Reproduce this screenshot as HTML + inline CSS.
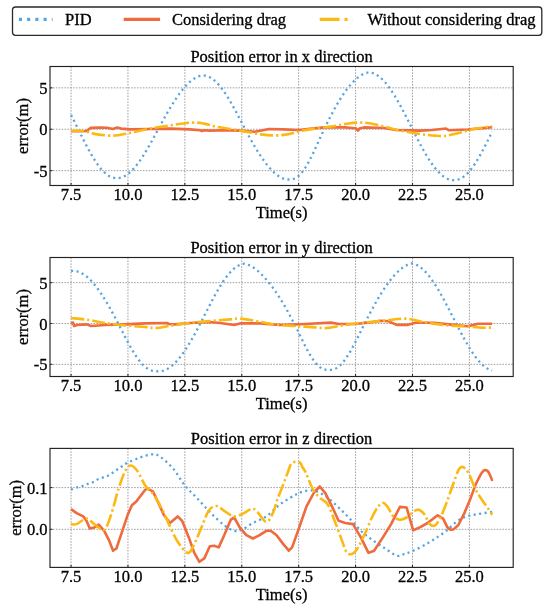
<!DOCTYPE html>
<html><head><meta charset="utf-8"><title>Position error</title>
<style>html,body{margin:0;padding:0;background:#fff;}body{width:550px;height:610px;overflow:hidden;}svg{display:block;}</style>
</head><body>
<svg width="550" height="610" viewBox="0 0 550 610" font-family="'Liberation Serif', 'Times New Roman', serif" font-size="16.5">
<style>text{stroke:#000;stroke-width:0.3px;}</style>
<rect width="550" height="610" fill="#fff"/>
<path d="M71.05,66.50V185.50 M127.96,66.50V185.50 M184.86,66.50V185.50 M241.77,66.50V185.50 M298.67,66.50V185.50 M355.58,66.50V185.50 M412.48,66.50V185.50 M469.38,66.50V185.50 M50.00,87.85H513.20 M50.00,129.25H513.20 M50.00,170.65H513.20" stroke="#a0a0a0" stroke-width="1.0" stroke-dasharray="1.6 1.3" fill="none"/>
<clipPath id="c0"><rect x="50.0" y="66.5" width="463.20000000000005" height="119.0"/></clipPath>
<g clip-path="url(#c0)" fill="none" stroke-width="2.6">
<path d="M71.05,115.00 L71.58,116.01 L72.11,117.03 L72.64,118.06 L73.16,119.10 L73.69,120.13 L74.22,121.18 L74.74,122.23 L75.27,123.28 L75.80,124.34 L76.32,125.40 L76.85,126.46 L77.38,127.52 L77.91,128.59 L78.43,129.66 L78.96,130.72 L79.49,131.79 L80.01,132.86 L80.54,133.92 L81.07,134.98 L81.59,136.04 L82.12,137.10 L82.65,138.15 L83.18,139.20 L83.70,140.25 L84.23,141.29 L84.76,142.32 L85.28,143.35 L85.81,144.37 L86.34,145.39 L86.87,146.40 L87.39,147.39 L87.92,148.38 L88.45,149.36 L88.97,150.33 L89.50,151.29 L90.03,152.24 L90.55,153.18 L91.08,154.11 L91.61,155.02 L92.14,155.92 L92.66,156.81 L93.19,157.69 L93.72,158.55 L94.24,159.40 L94.77,160.23 L95.30,161.04 L95.82,161.84 L96.35,162.63 L96.88,163.40 L97.41,164.15 L97.93,164.89 L98.46,165.60 L98.99,166.30 L99.51,166.98 L100.04,167.65 L100.57,168.29 L101.09,168.92 L101.62,169.53 L102.15,170.11 L102.68,170.68 L103.20,171.23 L103.73,171.76 L104.26,172.27 L104.78,172.75 L105.31,173.22 L105.84,173.67 L106.37,174.09 L106.89,174.49 L107.42,174.88 L107.95,175.24 L108.47,175.58 L109.00,175.90 L109.53,176.19 L110.05,176.47 L110.58,176.72 L111.11,176.96 L111.64,177.17 L112.16,177.36 L112.69,177.53 L113.22,177.67 L113.74,177.80 L114.27,177.90 L114.80,177.98 L115.32,178.04 L115.85,178.08 L116.38,178.10 L116.91,178.12 L117.43,178.12 L117.96,178.11 L118.49,178.07 L119.01,178.02 L119.54,177.94 L120.07,177.85 L120.59,177.73 L121.12,177.59 L121.65,177.43 L122.18,177.25 L122.70,177.06 L123.23,176.84 L123.76,176.60 L124.28,176.34 L124.81,176.06 L125.34,175.77 L125.86,175.45 L126.39,175.11 L126.92,174.76 L127.45,174.39 L127.97,174.00 L128.50,173.59 L129.03,173.16 L129.55,172.71 L130.08,172.25 L130.61,171.77 L131.14,171.27 L131.66,170.75 L132.19,170.22 L132.72,169.67 L133.24,169.10 L133.77,168.52 L134.30,167.93 L134.82,167.31 L135.35,166.68 L135.88,166.04 L136.41,165.38 L136.93,164.71 L137.46,164.02 L137.99,163.32 L138.51,162.61 L139.04,161.88 L139.57,161.14 L140.09,160.39 L140.62,159.62 L141.15,158.85 L141.68,158.06 L142.20,157.26 L142.73,156.45 L143.26,155.63 L143.78,154.79 L144.31,153.95 L144.84,153.10 L145.36,152.24 L145.89,151.37 L146.42,150.49 L146.95,149.60 L147.47,148.70 L148.00,147.80 L148.53,146.89 L149.05,145.97 L149.58,145.05 L150.11,144.12 L150.63,143.18 L151.16,142.24 L151.69,141.29 L152.22,140.34 L152.74,139.38 L153.27,138.42 L153.80,137.46 L154.32,136.49 L154.85,135.52 L155.38,134.55 L155.91,133.57 L156.43,132.60 L156.96,131.62 L157.49,130.64 L158.01,129.66 L158.54,128.68 L159.07,127.70 L159.59,126.72 L160.12,125.74 L160.65,124.77 L161.18,123.80 L161.70,122.83 L162.23,121.86 L162.76,120.90 L163.28,119.94 L163.81,118.99 L164.34,118.04 L164.86,117.09 L165.39,116.15 L165.92,115.22 L166.45,114.29 L166.97,113.36 L167.50,112.44 L168.03,111.53 L168.55,110.62 L169.08,109.72 L169.61,108.83 L170.13,107.94 L170.66,107.06 L171.19,106.19 L171.72,105.33 L172.24,104.47 L172.77,103.63 L173.30,102.79 L173.82,101.96 L174.35,101.13 L174.88,100.32 L175.40,99.52 L175.93,98.72 L176.46,97.94 L176.99,97.16 L177.51,96.40 L178.04,95.64 L178.57,94.90 L179.09,94.17 L179.62,93.44 L180.15,92.73 L180.68,92.03 L181.20,91.34 L181.73,90.67 L182.26,90.00 L182.78,89.35 L183.31,88.71 L183.84,88.08 L184.36,87.47 L184.89,86.87 L185.42,86.28 L185.95,85.70 L186.47,85.14 L187.00,84.59 L187.53,84.06 L188.05,83.53 L188.58,83.03 L189.11,82.54 L189.63,82.06 L190.16,81.60 L190.69,81.15 L191.22,80.72 L191.74,80.30 L192.27,79.90 L192.80,79.51 L193.32,79.15 L193.85,78.79 L194.38,78.46 L194.90,78.14 L195.43,77.83 L195.96,77.55 L196.49,77.28 L197.01,77.02 L197.54,76.79 L198.07,76.57 L198.59,76.37 L199.12,76.19 L199.65,76.03 L200.18,75.89 L200.70,75.76 L201.23,75.65 L201.76,75.57 L202.28,75.50 L202.81,75.45 L203.34,75.44 L203.86,75.48 L204.39,75.55 L204.92,75.63 L205.45,75.73 L205.97,75.85 L206.50,75.99 L207.03,76.15 L207.55,76.33 L208.08,76.53 L208.61,76.75 L209.13,76.99 L209.66,77.25 L210.19,77.53 L210.72,77.83 L211.24,78.15 L211.77,78.49 L212.30,78.85 L212.82,79.23 L213.35,79.62 L213.88,80.04 L214.40,80.48 L214.93,80.93 L215.46,81.41 L215.99,81.90 L216.51,82.41 L217.04,82.94 L217.57,83.49 L218.09,84.05 L218.62,84.64 L219.15,85.24 L219.67,85.85 L220.20,86.49 L220.73,87.14 L221.26,87.81 L221.78,88.49 L222.31,89.19 L222.84,89.91 L223.36,90.64 L223.89,91.38 L224.42,92.14 L224.95,92.91 L225.47,93.70 L226.00,94.50 L226.53,95.32 L227.05,96.14 L227.58,96.98 L228.11,97.83 L228.63,98.70 L229.16,99.57 L229.69,100.46 L230.22,101.35 L230.74,102.26 L231.27,103.17 L231.80,104.09 L232.32,105.03 L232.85,105.97 L233.38,106.92 L233.90,107.87 L234.43,108.83 L234.96,109.80 L235.49,110.78 L236.01,111.76 L236.54,112.74 L237.07,113.74 L237.59,114.73 L238.12,115.73 L238.65,116.73 L239.17,117.74 L239.70,118.74 L240.23,119.75 L240.76,120.76 L241.28,121.77 L241.81,122.79 L242.34,123.80 L242.86,124.81 L243.39,125.82 L243.92,126.83 L244.44,127.84 L244.97,128.85 L245.50,129.85 L246.03,130.85 L246.55,131.85 L247.08,132.84 L247.61,133.82 L248.13,134.80 L248.66,135.78 L249.19,136.75 L249.72,137.71 L250.24,138.66 L250.77,139.61 L251.30,140.55 L251.82,141.49 L252.35,142.42 L252.88,143.34 L253.40,144.25 L253.93,145.16 L254.46,146.05 L254.99,146.94 L255.51,147.83 L256.04,148.70 L256.57,149.57 L257.09,150.42 L257.62,151.27 L258.15,152.11 L258.67,152.94 L259.20,153.76 L259.73,154.57 L260.26,155.37 L260.78,156.17 L261.31,156.95 L261.84,157.72 L262.36,158.48 L262.89,159.23 L263.42,159.98 L263.94,160.71 L264.47,161.43 L265.00,162.14 L265.53,162.84 L266.05,163.52 L266.58,164.20 L267.11,164.86 L267.63,165.51 L268.16,166.16 L268.69,166.78 L269.21,167.40 L269.74,168.00 L270.27,168.59 L270.80,169.17 L271.32,169.74 L271.85,170.29 L272.38,170.83 L272.90,171.35 L273.43,171.86 L273.96,172.36 L274.49,172.84 L275.01,173.31 L275.54,173.76 L276.07,174.20 L276.59,174.62 L277.12,175.03 L277.65,175.42 L278.17,175.79 L278.70,176.15 L279.23,176.50 L279.76,176.82 L280.28,177.13 L280.81,177.42 L281.34,177.69 L281.86,177.95 L282.39,178.19 L282.92,178.41 L283.44,178.61 L283.97,178.79 L284.50,178.95 L285.03,179.09 L285.55,179.22 L286.08,179.32 L286.61,179.40 L287.13,179.46 L287.66,179.50 L288.19,179.52 L288.71,179.52 L289.24,179.53 L289.77,179.55 L290.30,179.54 L290.82,179.51 L291.35,179.46 L291.88,179.38 L292.40,179.27 L292.93,179.13 L293.46,178.97 L293.99,178.78 L294.51,178.56 L295.04,178.32 L295.57,178.04 L296.09,177.74 L296.62,177.41 L297.15,177.04 L297.67,176.65 L298.20,176.23 L298.73,175.77 L299.26,175.29 L299.78,174.78 L300.31,174.24 L300.84,173.67 L301.36,173.07 L301.89,172.44 L302.42,171.78 L302.94,171.09 L303.47,170.38 L304.00,169.63 L304.53,168.86 L305.05,168.07 L305.58,167.25 L306.11,166.40 L306.63,165.53 L307.16,164.64 L307.69,163.72 L308.21,162.78 L308.74,161.82 L309.27,160.84 L309.80,159.85 L310.32,158.83 L310.85,157.79 L311.38,156.74 L311.90,155.68 L312.43,154.60 L312.96,153.51 L313.48,152.40 L314.01,151.29 L314.54,150.16 L315.07,149.03 L315.59,147.89 L316.12,146.74 L316.65,145.59 L317.17,144.43 L317.70,143.27 L318.23,142.11 L318.76,140.95 L319.28,139.79 L319.81,138.63 L320.34,137.47 L320.86,136.32 L321.39,135.17 L321.92,134.03 L322.44,132.90 L322.97,131.77 L323.50,130.65 L324.03,129.54 L324.55,128.44 L325.08,127.35 L325.61,126.26 L326.13,125.17 L326.66,124.09 L327.19,123.02 L327.71,121.95 L328.24,120.89 L328.77,119.84 L329.30,118.79 L329.82,117.76 L330.35,116.73 L330.88,115.70 L331.40,114.69 L331.93,113.68 L332.46,112.69 L332.98,111.70 L333.51,110.72 L334.04,109.75 L334.57,108.78 L335.09,107.83 L335.62,106.89 L336.15,105.96 L336.67,105.03 L337.20,104.12 L337.73,103.22 L338.25,102.33 L338.78,101.44 L339.31,100.57 L339.84,99.71 L340.36,98.86 L340.89,98.02 L341.42,97.20 L341.94,96.38 L342.47,95.57 L343.00,94.78 L343.53,94.00 L344.05,93.23 L344.58,92.47 L345.11,91.72 L345.63,90.98 L346.16,90.26 L346.69,89.55 L347.21,88.85 L347.74,88.16 L348.27,87.49 L348.80,86.83 L349.32,86.18 L349.85,85.54 L350.38,84.92 L350.90,84.31 L351.43,83.71 L351.96,83.13 L352.48,82.56 L353.01,82.00 L353.54,81.46 L354.07,80.93 L354.59,80.41 L355.12,79.91 L355.65,79.42 L356.17,78.95 L356.70,78.49 L357.23,78.05 L357.75,77.62 L358.28,77.21 L358.81,76.81 L359.34,76.43 L359.86,76.06 L360.39,75.71 L360.92,75.37 L361.44,75.05 L361.97,74.75 L362.50,74.46 L363.02,74.19 L363.55,73.94 L364.08,73.71 L364.61,73.49 L365.13,73.29 L365.66,73.11 L366.19,72.94 L366.71,72.80 L367.24,72.67 L367.77,72.56 L368.30,72.48 L368.82,72.41 L369.35,72.38 L369.88,72.43 L370.40,72.50 L370.93,72.59 L371.46,72.70 L371.98,72.83 L372.51,72.99 L373.04,73.16 L373.57,73.35 L374.09,73.56 L374.62,73.79 L375.15,74.04 L375.67,74.31 L376.20,74.60 L376.73,74.91 L377.25,75.23 L377.78,75.58 L378.31,75.95 L378.84,76.33 L379.36,76.73 L379.89,77.16 L380.42,77.60 L380.94,78.06 L381.47,78.53 L382.00,79.03 L382.52,79.54 L383.05,80.07 L383.58,80.62 L384.11,81.18 L384.63,81.76 L385.16,82.36 L385.69,82.97 L386.21,83.61 L386.74,84.25 L387.27,84.92 L387.80,85.60 L388.32,86.29 L388.85,87.00 L389.38,87.72 L389.90,88.46 L390.43,89.21 L390.96,89.98 L391.48,90.76 L392.01,91.56 L392.54,92.36 L393.07,93.18 L393.59,94.02 L394.12,94.86 L394.65,95.72 L395.17,96.59 L395.70,97.47 L396.23,98.36 L396.75,99.26 L397.28,100.17 L397.81,101.09 L398.34,102.02 L398.86,102.96 L399.39,103.91 L399.92,104.87 L400.44,105.83 L400.97,106.81 L401.50,107.79 L402.02,108.78 L402.55,109.77 L403.08,110.77 L403.61,111.78 L404.13,112.79 L404.66,113.81 L405.19,114.83 L405.71,115.86 L406.24,116.89 L406.77,117.92 L407.29,118.96 L407.82,120.00 L408.35,121.04 L408.88,122.09 L409.40,123.13 L409.93,124.18 L410.46,125.23 L410.98,126.28 L411.51,127.32 L412.04,128.37 L412.57,129.42 L413.09,130.47 L413.62,131.51 L414.15,132.55 L414.67,133.59 L415.20,134.62 L415.73,135.66 L416.25,136.68 L416.78,137.71 L417.31,138.73 L417.84,139.74 L418.36,140.75 L418.89,141.75 L419.42,142.75 L419.94,143.74 L420.47,144.72 L421.00,145.70 L421.52,146.67 L422.05,147.63 L422.58,148.58 L423.11,149.53 L423.63,150.47 L424.16,151.39 L424.69,152.31 L425.21,153.22 L425.74,154.12 L426.27,155.00 L426.79,155.88 L427.32,156.75 L427.85,157.60 L428.38,158.44 L428.90,159.28 L429.43,160.09 L429.96,160.90 L430.48,161.69 L431.01,162.47 L431.54,163.24 L432.06,163.99 L432.59,164.73 L433.12,165.45 L433.65,166.16 L434.17,166.86 L434.70,167.54 L435.23,168.20 L435.75,168.85 L436.28,169.49 L436.81,170.10 L437.34,170.70 L437.86,171.29 L438.39,171.86 L438.92,172.41 L439.44,172.94 L439.97,173.45 L440.50,173.95 L441.02,174.43 L441.55,174.89 L442.08,175.34 L442.61,175.76 L443.13,176.17 L443.66,176.56 L444.19,176.92 L444.71,177.27 L445.24,177.60 L445.77,177.91 L446.29,178.20 L446.82,178.47 L447.35,178.72 L447.88,178.95 L448.40,179.16 L448.93,179.35 L449.46,179.52 L449.98,179.67 L450.51,179.80 L451.04,179.90 L451.56,179.99 L452.09,180.05 L452.62,180.10 L453.15,180.12 L453.67,180.12 L454.20,180.10 L454.73,180.08 L455.25,180.06 L455.78,180.01 L456.31,179.94 L456.83,179.85 L457.36,179.74 L457.89,179.61 L458.42,179.45 L458.94,179.27 L459.47,179.07 L460.00,178.85 L460.52,178.60 L461.05,178.34 L461.58,178.05 L462.11,177.74 L462.63,177.41 L463.16,177.05 L463.69,176.68 L464.21,176.28 L464.74,175.86 L465.27,175.42 L465.79,174.96 L466.32,174.48 L466.85,173.97 L467.38,173.45 L467.90,172.91 L468.43,172.34 L468.96,171.76 L469.48,171.15 L470.01,170.53 L470.54,169.88 L471.06,169.22 L471.59,168.54 L472.12,167.84 L472.65,167.12 L473.17,166.38 L473.70,165.63 L474.23,164.86 L474.75,164.07 L475.28,163.27 L475.81,162.45 L476.33,161.61 L476.86,160.76 L477.39,159.90 L477.92,159.02 L478.44,158.13 L478.97,157.22 L479.50,156.30 L480.02,155.37 L480.55,154.42 L481.08,153.46 L481.61,152.50 L482.13,151.52 L482.66,150.53 L483.19,149.53 L483.71,148.52 L484.24,147.51 L484.77,146.48 L485.29,145.45 L485.82,144.41 L486.35,143.37 L486.88,142.32 L487.40,141.26 L487.93,140.20 L488.46,139.13 L488.98,138.06 L489.51,136.99 L490.04,135.91 L490.56,134.83 L491.09,133.75 L491.62,132.67 L492.15,131.59" stroke="#58a4de" stroke-width="2.3" stroke-dasharray="2.1 3.4"/>
<path d="M71.00,131.30 L80.00,131.20 L86.60,131.00 L90.50,127.90 L100.00,127.60 L107.00,127.80 L113.00,129.00 L117.20,127.60 L121.00,128.60 L130.00,129.40 L150.00,129.00 L170.00,128.60 L190.00,129.40 L200.00,130.20 L202.00,131.00 L204.00,130.30 L210.00,130.60 L225.00,130.30 L240.00,130.60 L255.00,131.80 L269.00,129.00 L283.00,129.40 L299.00,130.00 L312.00,128.50 L325.00,127.40 L345.00,127.40 L352.00,128.00 L356.00,128.30 L358.00,130.60 L360.00,128.20 L364.00,127.40 L384.00,128.00 L396.00,130.00 L420.00,130.60 L432.00,130.00 L444.00,128.80 L446.00,128.60 L449.00,130.30 L468.00,129.50 L480.00,128.40 L492.20,127.30" stroke="#ef6a3c" stroke-linejoin="round"/>
<path d="M71.00,130.80 C72.50,130.80 77.50,130.70 80.00,130.80 C82.50,130.90 83.62,130.88 86.00,131.40 C88.38,131.92 90.38,133.20 94.30,133.90 C98.22,134.60 105.55,135.38 109.50,135.60 C113.45,135.82 115.02,135.58 118.00,135.20 C120.98,134.82 125.10,133.73 127.40,133.30 C129.70,132.87 128.03,133.38 131.80,132.60 C135.57,131.82 143.63,129.80 150.00,128.60 C156.37,127.40 163.00,126.40 170.00,125.40 C177.00,124.40 186.33,122.90 192.00,122.60 C197.67,122.30 200.00,122.93 204.00,123.60 C208.00,124.27 210.00,125.43 216.00,126.60 C222.00,127.77 232.50,129.30 240.00,130.60 C247.50,131.90 255.17,133.60 261.00,134.40 C266.83,135.20 270.67,135.40 275.00,135.40 C279.33,135.40 283.00,135.07 287.00,134.40 C291.00,133.73 294.33,132.37 299.00,131.40 C303.67,130.43 309.00,129.50 315.00,128.60 C321.00,127.70 330.00,126.77 335.00,126.00 C340.00,125.23 340.50,124.57 345.00,124.00 C349.50,123.43 356.17,122.37 362.00,122.60 C367.83,122.83 374.00,124.17 380.00,125.40 C386.00,126.63 391.33,128.57 398.00,130.00 C404.67,131.43 413.92,133.07 420.00,134.00 C426.08,134.93 430.62,135.25 434.50,135.60 C438.38,135.95 440.38,136.27 443.30,136.10 C446.22,135.93 448.62,135.33 452.00,134.60 C455.38,133.87 459.72,132.67 463.60,131.70 C467.48,130.73 470.53,129.68 475.30,128.80 C480.07,127.92 489.38,126.80 492.20,126.40" stroke="#fbb912" stroke-dasharray="13.1 3.0 2.2 3.0"/>
</g>
<path d="M71.05,185.50v-2.5 M127.96,185.50v-2.5 M184.86,185.50v-2.5 M241.77,185.50v-2.5 M298.67,185.50v-2.5 M355.58,185.50v-2.5 M412.48,185.50v-2.5 M469.38,185.50v-2.5 M50.00,87.85h2.5 M50.00,129.25h2.5 M50.00,170.65h2.5" stroke="#222" stroke-width="1" fill="none"/>
<rect x="50.00" y="66.50" width="463.20" height="119.00" stroke="#222" stroke-width="1.15" fill="none"/>
<text x="47.60" y="93.85" text-anchor="end">5</text>
<text x="47.60" y="135.25" text-anchor="end">0</text>
<text x="47.60" y="176.65" text-anchor="end">-5</text>
<text x="71.05" y="200.00" text-anchor="middle">7.5</text>
<text x="127.96" y="200.00" text-anchor="middle">10.0</text>
<text x="184.86" y="200.00" text-anchor="middle">12.5</text>
<text x="241.77" y="200.00" text-anchor="middle">15.0</text>
<text x="298.67" y="200.00" text-anchor="middle">17.5</text>
<text x="355.58" y="200.00" text-anchor="middle">20.0</text>
<text x="412.48" y="200.00" text-anchor="middle">22.5</text>
<text x="469.38" y="200.00" text-anchor="middle">25.0</text>
<text x="281.60" y="217.70" text-anchor="middle">Time(s)</text>
<text x="281.60" y="62.10" text-anchor="middle">Position error in x direction</text>
<text transform="translate(27.70,126.00) rotate(-90)" text-anchor="middle">error(m)</text>
<path d="M71.05,257.50V376.50 M127.96,257.50V376.50 M184.86,257.50V376.50 M241.77,257.50V376.50 M298.67,257.50V376.50 M355.58,257.50V376.50 M412.48,257.50V376.50 M469.38,257.50V376.50 M50.00,282.65H513.20 M50.00,323.50H513.20 M50.00,364.35H513.20" stroke="#a0a0a0" stroke-width="1.0" stroke-dasharray="1.6 1.3" fill="none"/>
<clipPath id="c1"><rect x="50.0" y="257.5" width="463.20000000000005" height="119.0"/></clipPath>
<g clip-path="url(#c1)" fill="none" stroke-width="2.6">
<path d="M71.05,271.07 L71.58,271.00 L72.11,270.95 L72.64,270.92 L73.16,270.91 L73.69,270.92 L74.22,270.94 L74.74,270.99 L75.27,271.05 L75.80,271.13 L76.32,271.22 L76.85,271.34 L77.38,271.47 L77.91,271.62 L78.43,271.79 L78.96,271.97 L79.49,272.18 L80.01,272.39 L80.54,272.63 L81.07,272.88 L81.59,273.15 L82.12,273.44 L82.65,273.75 L83.18,274.06 L83.70,274.40 L84.23,274.75 L84.76,275.12 L85.28,275.50 L85.81,275.90 L86.34,276.32 L86.87,276.75 L87.39,277.19 L87.92,277.65 L88.45,278.13 L88.97,278.62 L89.50,279.12 L90.03,279.64 L90.55,280.17 L91.08,280.72 L91.61,281.28 L92.14,281.85 L92.66,282.44 L93.19,283.05 L93.72,283.66 L94.24,284.29 L94.77,284.93 L95.30,285.58 L95.82,286.25 L96.35,286.93 L96.88,287.62 L97.41,288.33 L97.93,289.04 L98.46,289.77 L98.99,290.51 L99.51,291.26 L100.04,292.02 L100.57,292.80 L101.09,293.58 L101.62,294.37 L102.15,295.18 L102.68,296.00 L103.20,296.82 L103.73,297.66 L104.26,298.50 L104.78,299.36 L105.31,300.22 L105.84,301.09 L106.37,301.97 L106.89,302.86 L107.42,303.76 L107.95,304.67 L108.47,305.59 L109.00,306.51 L109.53,307.44 L110.05,308.37 L110.58,309.32 L111.11,310.27 L111.64,311.22 L112.16,312.19 L112.69,313.16 L113.22,314.13 L113.74,315.11 L114.27,316.09 L114.80,317.08 L115.32,318.07 L115.85,319.07 L116.38,320.07 L116.91,321.08 L117.43,322.08 L117.96,323.09 L118.49,324.11 L119.01,325.12 L119.54,326.14 L120.07,327.16 L120.59,328.19 L121.12,329.21 L121.65,330.24 L122.18,331.26 L122.70,332.29 L123.23,333.31 L123.76,334.33 L124.28,335.35 L124.81,336.37 L125.34,337.38 L125.86,338.39 L126.39,339.39 L126.92,340.39 L127.45,341.38 L127.97,342.36 L128.50,343.34 L129.03,344.30 L129.55,345.26 L130.08,346.21 L130.61,347.15 L131.14,348.07 L131.66,348.99 L132.19,349.89 L132.72,350.78 L133.24,351.66 L133.77,352.52 L134.30,353.37 L134.82,354.21 L135.35,355.03 L135.88,355.83 L136.41,356.61 L136.93,357.38 L137.46,358.13 L137.99,358.87 L138.51,359.58 L139.04,360.28 L139.57,360.95 L140.09,361.61 L140.62,362.25 L141.15,362.86 L141.68,363.46 L142.20,364.03 L142.73,364.59 L143.26,365.12 L143.78,365.63 L144.31,366.12 L144.84,366.59 L145.36,367.03 L145.89,367.46 L146.42,367.86 L146.95,368.23 L147.47,368.59 L148.00,368.92 L148.53,369.23 L149.05,369.52 L149.58,369.78 L150.11,370.03 L150.63,370.25 L151.16,370.44 L151.69,370.62 L152.22,370.77 L152.74,370.91 L153.27,371.02 L153.80,371.11 L154.32,371.17 L154.85,371.22 L155.38,371.25 L155.91,371.25 L156.43,371.24 L156.96,371.23 L157.49,371.29 L158.01,371.33 L158.54,371.35 L159.07,371.35 L159.59,371.33 L160.12,371.30 L160.65,371.24 L161.18,371.17 L161.70,371.08 L162.23,370.97 L162.76,370.84 L163.28,370.69 L163.81,370.52 L164.34,370.34 L164.86,370.14 L165.39,369.92 L165.92,369.68 L166.45,369.42 L166.97,369.15 L167.50,368.86 L168.03,368.55 L168.55,368.22 L169.08,367.88 L169.61,367.52 L170.13,367.14 L170.66,366.75 L171.19,366.34 L171.72,365.91 L172.24,365.47 L172.77,365.01 L173.30,364.54 L173.82,364.05 L174.35,363.54 L174.88,363.02 L175.40,362.49 L175.93,361.94 L176.46,361.37 L176.99,360.79 L177.51,360.20 L178.04,359.59 L178.57,358.96 L179.09,358.33 L179.62,357.68 L180.15,357.01 L180.68,356.33 L181.20,355.64 L181.73,354.94 L182.26,354.22 L182.78,353.49 L183.31,352.75 L183.84,352.00 L184.36,351.23 L184.89,350.45 L185.42,349.66 L185.95,348.86 L186.47,348.05 L187.00,347.23 L187.53,346.40 L188.05,345.55 L188.58,344.70 L189.11,343.83 L189.63,342.96 L190.16,342.08 L190.69,341.18 L191.22,340.28 L191.74,339.37 L192.27,338.45 L192.80,337.53 L193.32,336.59 L193.85,335.65 L194.38,334.70 L194.90,333.74 L195.43,332.77 L195.96,331.80 L196.49,330.82 L197.01,329.84 L197.54,328.85 L198.07,327.85 L198.59,326.85 L199.12,325.85 L199.65,324.84 L200.18,323.82 L200.70,322.80 L201.23,321.78 L201.76,320.75 L202.28,319.72 L202.81,318.69 L203.34,317.66 L203.86,316.62 L204.39,315.58 L204.92,314.55 L205.45,313.51 L205.97,312.47 L206.50,311.44 L207.03,310.40 L207.55,309.36 L208.08,308.33 L208.61,307.30 L209.13,306.27 L209.66,305.25 L210.19,304.23 L210.72,303.21 L211.24,302.20 L211.77,301.20 L212.30,300.19 L212.82,299.20 L213.35,298.21 L213.88,297.23 L214.40,296.25 L214.93,295.29 L215.46,294.33 L215.99,293.38 L216.51,292.44 L217.04,291.50 L217.57,290.58 L218.09,289.67 L218.62,288.77 L219.15,287.88 L219.67,287.00 L220.20,286.13 L220.73,285.28 L221.26,284.43 L221.78,283.60 L222.31,282.79 L222.84,281.98 L223.36,281.19 L223.89,280.42 L224.42,279.66 L224.95,278.91 L225.47,278.18 L226.00,277.46 L226.53,276.76 L227.05,276.08 L227.58,275.41 L228.11,274.76 L228.63,274.13 L229.16,273.51 L229.69,272.91 L230.22,272.32 L230.74,271.76 L231.27,271.21 L231.80,270.68 L232.32,270.17 L232.85,269.67 L233.38,269.20 L233.90,268.74 L234.43,268.30 L234.96,267.88 L235.49,267.48 L236.01,267.10 L236.54,266.74 L237.07,266.39 L237.59,266.07 L238.12,265.76 L238.65,265.48 L239.17,265.21 L239.70,264.96 L240.23,264.73 L240.76,264.52 L241.28,264.33 L241.81,264.16 L242.34,264.01 L242.86,263.88 L243.39,263.76 L243.92,263.67 L244.44,263.64 L244.97,263.74 L245.50,263.86 L246.03,264.00 L246.55,264.15 L247.08,264.33 L247.61,264.51 L248.13,264.72 L248.66,264.94 L249.19,265.17 L249.72,265.42 L250.24,265.69 L250.77,265.97 L251.30,266.26 L251.82,266.57 L252.35,266.89 L252.88,267.22 L253.40,267.57 L253.93,267.93 L254.46,268.30 L254.99,268.68 L255.51,269.08 L256.04,269.49 L256.57,269.91 L257.09,270.34 L257.62,270.78 L258.15,271.24 L258.67,271.70 L259.20,272.17 L259.73,272.66 L260.26,273.16 L260.78,273.66 L261.31,274.18 L261.84,274.70 L262.36,275.24 L262.89,275.78 L263.42,276.34 L263.94,276.90 L264.47,277.48 L265.00,278.06 L265.53,278.65 L266.05,279.26 L266.58,279.87 L267.11,280.49 L267.63,281.12 L268.16,281.75 L268.69,282.40 L269.21,283.06 L269.74,283.72 L270.27,284.39 L270.80,285.08 L271.32,285.77 L271.85,286.47 L272.38,287.17 L272.90,287.89 L273.43,288.62 L273.96,289.35 L274.49,290.09 L275.01,290.84 L275.54,291.60 L276.07,292.37 L276.59,293.15 L277.12,293.93 L277.65,294.72 L278.17,295.53 L278.70,296.34 L279.23,297.15 L279.76,297.98 L280.28,298.82 L280.81,299.66 L281.34,300.51 L281.86,301.37 L282.39,302.24 L282.92,303.12 L283.44,304.00 L283.97,304.89 L284.50,305.79 L285.03,306.70 L285.55,307.62 L286.08,308.54 L286.61,309.47 L287.13,310.41 L287.66,311.36 L288.19,312.31 L288.71,313.27 L289.24,314.24 L289.77,315.22 L290.30,316.20 L290.82,317.19 L291.35,318.18 L291.88,319.18 L292.40,320.19 L292.93,321.20 L293.46,322.22 L293.99,323.24 L294.51,324.27 L295.04,325.31 L295.57,326.35 L296.09,327.41 L296.62,328.47 L297.15,329.54 L297.67,330.62 L298.20,331.69 L298.73,332.78 L299.26,333.86 L299.78,334.94 L300.31,336.03 L300.84,337.11 L301.36,338.20 L301.89,339.28 L302.42,340.35 L302.94,341.43 L303.47,342.49 L304.00,343.55 L304.53,344.60 L305.05,345.64 L305.58,346.67 L306.11,347.69 L306.63,348.69 L307.16,349.68 L307.69,350.66 L308.21,351.62 L308.74,352.57 L309.27,353.50 L309.80,354.41 L310.32,355.30 L310.85,356.16 L311.38,357.01 L311.90,357.84 L312.43,358.64 L312.96,359.42 L313.48,360.17 L314.01,360.90 L314.54,361.61 L315.07,362.28 L315.59,362.93 L316.12,363.55 L316.65,364.15 L317.17,364.71 L317.70,365.25 L318.23,365.76 L318.76,366.23 L319.28,366.68 L319.81,367.10 L320.34,367.49 L320.86,367.84 L321.39,368.17 L321.92,368.47 L322.44,368.73 L322.97,368.97 L323.50,369.17 L324.03,369.35 L324.55,369.50 L325.08,369.61 L325.61,369.70 L326.13,369.76 L326.66,369.80 L327.19,369.80 L327.71,369.78 L328.24,369.73 L328.77,369.67 L329.30,369.74 L329.82,369.79 L330.35,369.81 L330.88,369.80 L331.40,369.77 L331.93,369.71 L332.46,369.63 L332.98,369.51 L333.51,369.37 L334.04,369.21 L334.57,369.01 L335.09,368.79 L335.62,368.54 L336.15,368.26 L336.67,367.96 L337.20,367.62 L337.73,367.27 L338.25,366.88 L338.78,366.47 L339.31,366.03 L339.84,365.56 L340.36,365.07 L340.89,364.55 L341.42,364.00 L341.94,363.43 L342.47,362.84 L343.00,362.22 L343.53,361.58 L344.05,360.92 L344.58,360.23 L345.11,359.52 L345.63,358.78 L346.16,358.03 L346.69,357.25 L347.21,356.46 L347.74,355.65 L348.27,354.81 L348.80,353.96 L349.32,353.09 L349.85,352.21 L350.38,351.30 L350.90,350.39 L351.43,349.45 L351.96,348.51 L352.48,347.55 L353.01,346.58 L353.54,345.60 L354.07,344.60 L354.59,343.60 L355.12,342.59 L355.65,341.56 L356.17,340.53 L356.70,339.50 L357.23,338.46 L357.75,337.41 L358.28,336.36 L358.81,335.30 L359.34,334.24 L359.86,333.18 L360.39,332.12 L360.92,331.05 L361.44,329.99 L361.97,328.93 L362.50,327.87 L363.02,326.81 L363.55,325.75 L364.08,324.70 L364.61,323.65 L365.13,322.60 L365.66,321.56 L366.19,320.52 L366.71,319.49 L367.24,318.46 L367.77,317.43 L368.30,316.41 L368.82,315.39 L369.35,314.38 L369.88,313.37 L370.40,312.37 L370.93,311.38 L371.46,310.39 L371.98,309.41 L372.51,308.43 L373.04,307.46 L373.57,306.50 L374.09,305.54 L374.62,304.60 L375.15,303.65 L375.67,302.72 L376.20,301.79 L376.73,300.87 L377.25,299.96 L377.78,299.06 L378.31,298.17 L378.84,297.28 L379.36,296.40 L379.89,295.53 L380.42,294.67 L380.94,293.82 L381.47,292.97 L382.00,292.14 L382.52,291.31 L383.05,290.50 L383.58,289.69 L384.11,288.89 L384.63,288.10 L385.16,287.32 L385.69,286.55 L386.21,285.79 L386.74,285.04 L387.27,284.30 L387.80,283.57 L388.32,282.86 L388.85,282.15 L389.38,281.45 L389.90,280.76 L390.43,280.08 L390.96,279.41 L391.48,278.76 L392.01,278.11 L392.54,277.48 L393.07,276.85 L393.59,276.24 L394.12,275.64 L394.65,275.05 L395.17,274.48 L395.70,273.91 L396.23,273.36 L396.75,272.82 L397.28,272.29 L397.81,271.78 L398.34,271.27 L398.86,270.78 L399.39,270.31 L399.92,269.85 L400.44,269.40 L400.97,268.96 L401.50,268.54 L402.02,268.13 L402.55,267.74 L403.08,267.36 L403.61,267.00 L404.13,266.65 L404.66,266.31 L405.19,266.00 L405.71,265.69 L406.24,265.41 L406.77,265.14 L407.29,264.89 L407.82,264.65 L408.35,264.43 L408.88,264.23 L409.40,264.05 L409.93,263.88 L410.46,263.74 L410.98,263.61 L411.51,263.50 L412.04,263.49 L412.57,263.58 L413.09,263.70 L413.62,263.84 L414.15,263.99 L414.67,264.17 L415.20,264.36 L415.73,264.57 L416.25,264.81 L416.78,265.06 L417.31,265.33 L417.84,265.62 L418.36,265.93 L418.89,266.25 L419.42,266.60 L419.94,266.96 L420.47,267.35 L421.00,267.75 L421.52,268.17 L422.05,268.60 L422.58,269.06 L423.11,269.53 L423.63,270.02 L424.16,270.53 L424.69,271.05 L425.21,271.59 L425.74,272.15 L426.27,272.72 L426.79,273.31 L427.32,273.92 L427.85,274.54 L428.38,275.18 L428.90,275.83 L429.43,276.50 L429.96,277.19 L430.48,277.88 L431.01,278.60 L431.54,279.32 L432.06,280.06 L432.59,280.82 L433.12,281.59 L433.65,282.37 L434.17,283.16 L434.70,283.97 L435.23,284.78 L435.75,285.61 L436.28,286.46 L436.81,287.31 L437.34,288.17 L437.86,289.05 L438.39,289.93 L438.92,290.83 L439.44,291.73 L439.97,292.65 L440.50,293.57 L441.02,294.50 L441.55,295.44 L442.08,296.39 L442.61,297.35 L443.13,298.31 L443.66,299.28 L444.19,300.26 L444.71,301.25 L445.24,302.24 L445.77,303.23 L446.29,304.23 L446.82,305.24 L447.35,306.25 L447.88,307.26 L448.40,308.28 L448.93,309.30 L449.46,310.33 L449.98,311.35 L450.51,312.38 L451.04,313.41 L451.56,314.45 L452.09,315.48 L452.62,316.52 L453.15,317.55 L453.67,318.59 L454.20,319.62 L454.73,320.65 L455.25,321.69 L455.78,322.72 L456.31,323.75 L456.83,324.77 L457.36,325.80 L457.89,326.82 L458.42,327.84 L458.94,328.86 L459.47,329.88 L460.00,330.89 L460.52,331.89 L461.05,332.89 L461.58,333.89 L462.11,334.88 L462.63,335.86 L463.16,336.84 L463.69,337.81 L464.21,338.78 L464.74,339.73 L465.27,340.68 L465.79,341.62 L466.32,342.55 L466.85,343.47 L467.38,344.38 L467.90,345.29 L468.43,346.18 L468.96,347.06 L469.48,347.92 L470.01,348.78 L470.54,349.63 L471.06,350.46 L471.59,351.28 L472.12,352.09 L472.65,352.88 L473.17,353.66 L473.70,354.43 L474.23,355.18 L474.75,355.91 L475.28,356.63 L475.81,357.34 L476.33,358.03 L476.86,358.71 L477.39,359.37 L477.92,360.01 L478.44,360.64 L478.97,361.24 L479.50,361.84 L480.02,362.41 L480.55,362.97 L481.08,363.51 L481.61,364.03 L482.13,364.53 L482.66,365.02 L483.19,365.49 L483.71,365.94 L484.24,366.37 L484.77,366.78 L485.29,367.17 L485.82,367.55 L486.35,367.90 L486.88,368.24 L487.40,368.55 L487.93,368.85 L488.46,369.13 L488.98,369.39 L489.51,369.63 L490.04,369.85 L490.56,370.05 L491.09,370.23 L491.62,370.39 L492.15,370.53" stroke="#58a4de" stroke-width="2.3" stroke-dasharray="2.1 3.4"/>
<path d="M71.00,323.00 L73.00,322.60 L74.00,326.00 L77.00,325.00 L87.00,324.40 L91.00,326.00 L105.00,325.00 L125.00,324.40 L145.00,323.40 L167.00,323.00 L169.00,324.00 L175.00,324.40 L190.00,323.00 L210.00,322.00 L220.00,323.00 L234.00,325.00 L240.00,323.40 L260.00,323.40 L280.00,325.00 L305.00,324.00 L331.00,322.60 L339.00,324.00 L355.00,324.00 L370.00,322.50 L380.00,320.70 L388.40,321.30 L396.70,324.90 L407.20,324.90 L415.60,322.80 L434.40,322.80 L453.20,324.90 L467.90,326.30 L478.30,323.80 L492.20,323.80" stroke="#ef6a3c" stroke-linejoin="round"/>
<path d="M71.00,318.00 C74.00,318.33 83.33,319.17 89.00,320.00 C94.67,320.83 99.00,322.10 105.00,323.00 C111.00,323.90 118.33,324.73 125.00,325.40 C131.67,326.07 139.67,326.57 145.00,327.00 C150.33,327.43 153.00,328.17 157.00,328.00 C161.00,327.83 163.50,326.83 169.00,326.00 C174.50,325.17 183.17,323.83 190.00,323.00 C196.83,322.17 203.33,321.60 210.00,321.00 C216.67,320.40 225.00,319.80 230.00,319.40 C235.00,319.00 236.00,318.40 240.00,318.60 C244.00,318.80 249.67,319.87 254.00,320.60 C258.33,321.33 261.67,322.27 266.00,323.00 C270.33,323.73 275.17,324.50 280.00,325.00 C284.83,325.50 289.17,325.60 295.00,326.00 C300.83,326.40 309.67,327.07 315.00,327.40 C320.33,327.73 322.00,328.40 327.00,328.00 C332.00,327.60 338.67,325.90 345.00,325.00 C351.33,324.10 358.33,323.33 365.00,322.60 C371.67,321.87 378.32,321.27 385.00,320.60 C391.68,319.93 398.97,318.42 405.10,318.60 C411.23,318.78 415.52,320.65 421.80,321.70 C428.08,322.75 435.82,324.13 442.80,324.90 C449.78,325.67 457.43,325.85 463.70,326.30 C469.97,326.75 475.65,327.38 480.40,327.60 C485.15,327.82 490.23,327.60 492.20,327.60" stroke="#fbb912" stroke-dasharray="13.1 3.0 2.2 3.0"/>
</g>
<path d="M71.05,376.50v-2.5 M127.96,376.50v-2.5 M184.86,376.50v-2.5 M241.77,376.50v-2.5 M298.67,376.50v-2.5 M355.58,376.50v-2.5 M412.48,376.50v-2.5 M469.38,376.50v-2.5 M50.00,282.65h2.5 M50.00,323.50h2.5 M50.00,364.35h2.5" stroke="#222" stroke-width="1" fill="none"/>
<rect x="50.00" y="257.50" width="463.20" height="119.00" stroke="#222" stroke-width="1.15" fill="none"/>
<text x="47.60" y="288.65" text-anchor="end">5</text>
<text x="47.60" y="329.50" text-anchor="end">0</text>
<text x="47.60" y="370.35" text-anchor="end">-5</text>
<text x="71.05" y="391.00" text-anchor="middle">7.5</text>
<text x="127.96" y="391.00" text-anchor="middle">10.0</text>
<text x="184.86" y="391.00" text-anchor="middle">12.5</text>
<text x="241.77" y="391.00" text-anchor="middle">15.0</text>
<text x="298.67" y="391.00" text-anchor="middle">17.5</text>
<text x="355.58" y="391.00" text-anchor="middle">20.0</text>
<text x="412.48" y="391.00" text-anchor="middle">22.5</text>
<text x="469.38" y="391.00" text-anchor="middle">25.0</text>
<text x="281.60" y="408.70" text-anchor="middle">Time(s)</text>
<text x="281.60" y="253.10" text-anchor="middle">Position error in y direction</text>
<text transform="translate(27.70,317.00) rotate(-90)" text-anchor="middle">error(m)</text>
<path d="M71.05,448.40V567.40 M127.96,448.40V567.40 M184.86,448.40V567.40 M241.77,448.40V567.40 M298.67,448.40V567.40 M355.58,448.40V567.40 M412.48,448.40V567.40 M469.38,448.40V567.40 M50.00,487.60H513.20 M50.00,529.30H513.20" stroke="#a0a0a0" stroke-width="1.0" stroke-dasharray="1.6 1.3" fill="none"/>
<clipPath id="c2"><rect x="50.0" y="448.4" width="463.20000000000005" height="119.0"/></clipPath>
<g clip-path="url(#c2)" fill="none" stroke-width="2.6">
<path d="M71.00,489.50 C71.93,489.17 74.72,488.08 76.60,487.50 C78.48,486.92 80.50,486.58 82.30,486.00 C84.10,485.42 85.65,484.63 87.40,484.00 C89.15,483.37 91.12,482.95 92.80,482.20 C94.48,481.45 95.87,480.27 97.50,479.50 C99.13,478.73 100.90,478.22 102.60,477.60 C104.30,476.98 106.07,476.58 107.70,475.80 C109.33,475.02 110.85,473.92 112.40,472.90 C113.95,471.88 115.45,470.77 117.00,469.70 C118.55,468.63 120.17,467.55 121.70,466.50 C123.23,465.45 123.15,464.90 126.20,463.40 C129.25,461.90 135.73,459.00 140.00,457.50 C144.27,456.00 148.47,454.55 151.80,454.40 C155.13,454.25 156.42,454.20 160.00,456.60 C163.58,459.00 169.17,464.00 173.30,468.80 C177.43,473.60 180.75,480.42 184.80,485.40 C188.85,490.38 193.25,494.08 197.60,498.70 C201.95,503.32 206.47,508.68 210.90,513.10 C215.33,517.52 220.32,522.25 224.20,525.20 C228.08,528.15 231.25,530.05 234.20,530.80 C237.15,531.55 238.77,531.00 241.90,529.70 C245.03,528.40 248.93,525.22 253.00,523.00 C257.07,520.78 261.98,519.35 266.30,516.40 C270.62,513.45 274.97,508.37 278.90,505.30 C282.83,502.23 286.58,500.03 289.90,498.00 C293.22,495.97 295.85,494.35 298.80,493.10 C301.75,491.85 304.65,490.78 307.60,490.50 C310.55,490.22 313.17,490.22 316.50,491.40 C319.83,492.58 323.92,494.92 327.60,497.60 C331.28,500.28 334.92,504.00 338.60,507.50 C342.28,511.00 346.00,514.72 349.70,518.60 C353.40,522.48 357.12,527.30 360.80,530.80 C364.48,534.30 367.75,536.65 371.80,539.60 C375.85,542.55 380.97,545.83 385.10,548.50 C389.23,551.17 393.38,554.68 396.60,555.60 C399.82,556.52 401.63,554.82 404.40,554.00 C407.17,553.18 409.88,552.17 413.20,550.70 C416.52,549.23 420.62,547.23 424.30,545.20 C427.98,543.17 431.62,540.90 435.30,538.50 C438.98,536.10 442.88,533.57 446.40,530.80 C449.92,528.03 453.08,524.30 456.40,521.90 C459.72,519.50 462.80,517.68 466.30,516.40 C469.80,515.12 473.08,514.97 477.40,514.20 C481.72,513.43 489.73,512.20 492.20,511.80" stroke="#58a4de" stroke-width="2.3" stroke-dasharray="2.1 3.4"/>
<path d="M71.00,509.10 L76.60,513.10 L83.20,516.40 L86.50,520.80 L89.80,528.60 L94.30,527.50 L98.70,524.60 L104.20,530.80 L108.70,539.60 L113.10,550.70 L116.40,548.50 L123.10,528.60 L127.50,515.30 L131.90,505.30 L136.30,501.50 L145.20,489.80 L147.40,488.70 L152.90,491.40 L158.50,503.10 L164.00,515.30 L170.00,523.00 L177.70,516.40 L182.10,520.80 L188.80,537.40 L194.30,552.90 L199.40,561.80 L204.30,558.40 L209.80,546.30 L214.20,545.80 L218.70,547.40 L224.20,535.20 L230.80,519.70 L234.20,517.50 L239.70,527.40 L246.30,535.20 L253.00,538.50 L259.60,535.20 L266.30,530.80 L270.70,530.80 L276.60,535.20 L283.30,544.10 L288.80,550.70 L292.10,547.40 L298.80,528.60 L306.50,506.40 L314.30,492.00 L319.80,486.50 L325.30,493.10 L332.00,506.40 L338.60,520.80 L345.30,523.00 L353.00,524.10 L360.80,537.40 L368.50,552.90 L374.10,550.70 L382.90,537.40 L391.10,524.10 L399.90,506.90 L406.60,507.50 L413.20,530.30 L419.80,527.40 L427.60,523.00 L437.60,515.30 L443.10,518.60 L447.40,527.40 L450.50,529.80 L453.50,529.40 L458.40,525.00 L464.60,512.60 L470.70,497.90 L475.60,484.50 L479.30,477.10 L481.50,473.20 L483.60,470.60 L485.20,470.00 L486.90,470.50 L488.50,472.00 L489.80,474.70 L491.30,478.00 L492.20,481.00" stroke="#ef6a3c" stroke-linejoin="round"/>
<path d="M71.00,524.10 C71.93,524.10 74.02,525.02 76.60,524.10 C79.18,523.18 83.55,518.60 86.50,518.60 C89.45,518.60 91.35,522.25 94.30,524.10 C97.25,525.95 101.43,531.17 104.20,529.70 C106.97,528.23 108.50,522.13 110.90,515.30 C113.30,508.47 116.20,496.08 118.60,488.70 C121.00,481.32 123.27,474.87 125.30,471.00 C127.33,467.13 128.78,465.50 130.80,465.50 C132.82,465.50 135.00,467.68 137.40,471.00 C139.80,474.32 142.42,481.35 145.20,485.40 C147.98,489.45 151.15,491.07 154.10,495.30 C157.05,499.53 160.43,506.00 162.90,510.80 C165.37,515.60 166.43,518.93 168.90,524.10 C171.37,529.27 174.57,537.00 177.70,541.80 C180.83,546.60 185.12,552.15 187.70,552.90 C190.28,553.65 190.98,550.35 193.20,546.30 C195.42,542.25 198.42,534.52 201.00,528.60 C203.58,522.68 206.12,514.57 208.70,510.80 C211.28,507.03 213.92,506.00 216.50,506.00 C219.08,506.00 221.25,509.07 224.20,510.80 C227.15,512.53 230.88,516.02 234.20,516.40 C237.52,516.78 241.15,514.40 244.10,513.10 C247.05,511.80 249.68,508.78 251.90,508.60 C254.12,508.42 255.00,509.78 257.40,512.00 C259.80,514.22 263.72,521.72 266.30,521.90 C268.88,522.08 271.07,516.78 272.90,513.10 C274.73,509.42 275.57,504.60 277.30,499.80 C279.03,495.00 281.43,489.18 283.30,484.30 C285.17,479.42 287.30,473.72 288.50,470.50 C289.70,467.28 289.67,466.38 290.50,465.00 C291.33,463.62 292.33,462.73 293.50,462.20 C294.67,461.67 296.33,461.63 297.50,461.80 C298.67,461.97 299.63,462.25 300.50,463.20 C301.37,464.15 301.87,466.03 302.70,467.50 C303.53,468.97 303.75,468.28 305.50,472.00 C307.25,475.72 310.63,485.35 313.20,489.80 C315.77,494.25 318.50,496.30 320.90,498.70 C323.30,501.10 325.38,500.70 327.60,504.20 C329.82,507.70 332.00,514.17 334.20,519.70 C336.40,525.23 338.77,532.05 340.80,537.40 C342.83,542.75 344.55,549.03 346.40,551.80 C348.25,554.57 350.07,554.55 351.90,554.00 C353.73,553.45 355.18,552.00 357.40,548.50 C359.62,545.00 362.42,538.90 365.20,533.00 C367.98,527.10 371.33,518.08 374.10,513.10 C376.87,508.12 379.60,504.22 381.80,503.10 C384.00,501.98 385.38,504.18 387.30,506.40 C389.22,508.62 391.20,514.18 393.30,516.40 C395.40,518.62 397.68,519.52 399.90,519.70 C402.12,519.88 404.38,518.78 406.60,517.50 C408.82,516.22 411.18,513.30 413.20,512.00 C415.22,510.70 416.85,509.33 418.70,509.70 C420.55,510.07 422.45,511.80 424.30,514.20 C426.15,516.60 427.97,522.27 429.80,524.10 C431.63,525.93 433.45,526.48 435.30,525.20 C437.15,523.92 439.05,520.08 440.90,516.40 C442.75,512.72 444.37,508.45 446.40,503.10 C448.43,497.75 451.07,489.83 453.10,484.30 C455.13,478.77 456.95,472.78 458.60,469.90 C460.25,467.02 461.33,466.45 463.00,467.00 C464.67,467.55 466.57,469.58 468.60,473.20 C470.63,476.82 472.98,484.27 475.20,488.70 C477.42,493.13 479.87,496.67 481.90,499.80 C483.93,502.93 485.68,505.00 487.40,507.50 C489.12,510.00 491.40,513.58 492.20,514.80" stroke="#fbb912" stroke-dasharray="13.1 3.0 2.2 3.0"/>
</g>
<path d="M71.05,567.40v-2.5 M127.96,567.40v-2.5 M184.86,567.40v-2.5 M241.77,567.40v-2.5 M298.67,567.40v-2.5 M355.58,567.40v-2.5 M412.48,567.40v-2.5 M469.38,567.40v-2.5 M50.00,487.60h2.5 M50.00,529.30h2.5" stroke="#222" stroke-width="1" fill="none"/>
<rect x="50.00" y="448.40" width="463.20" height="119.00" stroke="#222" stroke-width="1.15" fill="none"/>
<text x="47.60" y="493.60" text-anchor="end">0.1</text>
<text x="47.60" y="535.30" text-anchor="end">0.0</text>
<text x="71.05" y="581.90" text-anchor="middle">7.5</text>
<text x="127.96" y="581.90" text-anchor="middle">10.0</text>
<text x="184.86" y="581.90" text-anchor="middle">12.5</text>
<text x="241.77" y="581.90" text-anchor="middle">15.0</text>
<text x="298.67" y="581.90" text-anchor="middle">17.5</text>
<text x="355.58" y="581.90" text-anchor="middle">20.0</text>
<text x="412.48" y="581.90" text-anchor="middle">22.5</text>
<text x="469.38" y="581.90" text-anchor="middle">25.0</text>
<text x="281.60" y="599.60" text-anchor="middle">Time(s)</text>
<text x="281.60" y="444.00" text-anchor="middle">Position error in z direction</text>
<text transform="translate(20.80,507.90) rotate(-90)" text-anchor="middle">error(m)</text>
<rect x="12.5" y="7.0" width="529.3" height="28.3" rx="3" ry="3" fill="#fff" stroke="#2a2a2a" stroke-width="1.3"/>
<path d="M18.9,19.4h33.6" stroke="#58a4de" stroke-width="3.1" stroke-dasharray="3.10 5.12"/>
<path d="M123.7,19.4h36.4" stroke="#ef6a3c" stroke-width="3.1"/>
<path d="M319.7,19.4h33" stroke="#fbb912" stroke-width="3.1" stroke-dasharray="19.84 4.96 3.10 4.96"/>
<text x="65.05" y="25.00" text-anchor="start">PID</text>
<text x="171.90" y="25.00" text-anchor="start">Considering drag</text>
<text x="367.50" y="25.00" text-anchor="start">Without considering drag</text>
</svg>
</body></html>
